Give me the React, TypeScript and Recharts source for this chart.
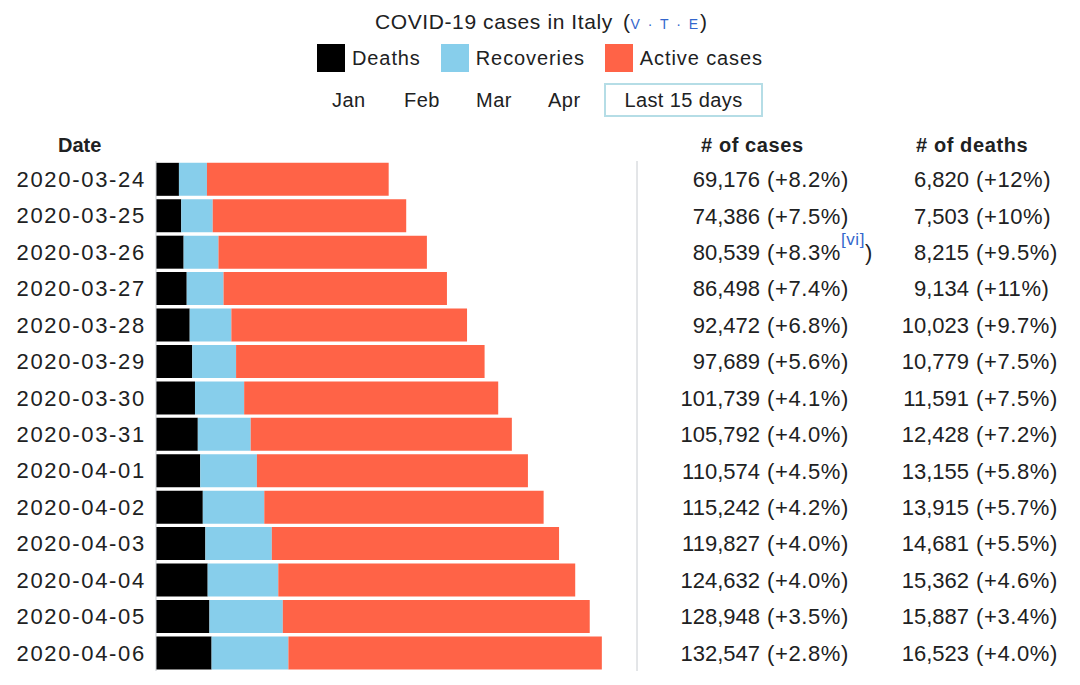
import React from 'react';
import { Bar, BarChart, XAxis, YAxis } from 'recharts';

const dates = [
  '2020-03-24', '2020-03-25', '2020-03-26', '2020-03-27', '2020-03-28',
  '2020-03-29', '2020-03-30', '2020-03-31', '2020-04-01', '2020-04-02',
  '2020-04-03', '2020-04-04', '2020-04-05', '2020-04-06',
];
const deaths = [6820, 7503, 8215, 9134, 10023, 10779, 11591, 12428, 13155, 13915, 14681, 15362, 15887, 16523];
const recoveries = [8326, 9362, 10361, 10950, 12384, 13030, 14620, 15729, 16847, 18278, 19758, 20996, 21815, 22837];
const cases = [69176, 74386, 80539, 86498, 92472, 97689, 101739, 105792, 110574, 115242, 119827, 124632, 128948, 132547];
const casesPct = ['+8.2%', '+7.5%', '+8.3%', '+7.4%', '+6.8%', '+5.6%', '+4.1%', '+4.0%', '+4.5%', '+4.2%', '+4.0%', '+4.0%', '+3.5%', '+2.8%'];
const deathsPct = ['+12%', '+10%', '+9.5%', '+11%', '+9.7%', '+7.5%', '+7.5%', '+7.2%', '+5.8%', '+5.7%', '+5.5%', '+4.6%', '+3.4%', '+4.0%'];
const notes = ['', '', 'vi', '', '', '', '', '', '', '', '', '', '', ''];
const months = ['Jan', 'Feb', 'Mar', 'Apr'];

const rows = dates.map((date, i) => ({
  date,
  deaths: deaths[i],
  recoveries: recoveries[i],
  active: cases[i] - deaths[i] - recoveries[i],
}));

const FONT = '"Liberation Sans", Arial, sans-serif';
const TEXT = '#202122';
const fmt = (n: number) => n.toLocaleString('en-US');

function RightTick(props: any) {
  const { y, payload } = props;
  const i = payload.index;
  const common = { fontSize: 22, fill: TEXT, fontFamily: FONT, dy: '0.36em' };
  return (
    <g>
      <text x={760} y={y} textAnchor="end" {...common}>{fmt(cases[i])}</text>
      <text x={767} y={y} textAnchor="start" letterSpacing={0.6} {...common}>
        ({casesPct[i]}
        {notes[i] ? (
          <tspan fill="#3366cc" fontSize={17} dy="-0.9em">[{notes[i]}]</tspan>
        ) : null}
        {notes[i] ? <tspan dy="0.7em">)</tspan> : ')'}
      </text>
      <text x={969} y={y} textAnchor="end" {...common}>{fmt(deaths[i])}</text>
      <text x={976} y={y} textAnchor="start" letterSpacing={0.6} {...common}>({deathsPct[i]})</text>
    </g>
  );
}

const legendItems = [
  { label: 'Deaths', color: '#000000' },
  { label: 'Recoveries', color: '#87ceeb' },
  { label: 'Active cases', color: '#ff6347' },
];

export default function App() {
  return (
    <div style={{ position: 'absolute', left: 0, top: 0, width: 1080, height: 685, background: '#fff', fontFamily: FONT, color: TEXT }}>
      <div style={{ position: 'absolute', top: 10, left: 375, fontSize: 21, letterSpacing: 0.6, whiteSpace: 'nowrap' }}>
        COVID-19 cases in Italy
        <span style={{ marginLeft: 10 }}>
          (<span style={{ color: '#3366cc', fontSize: 14, letterSpacing: 2 }}>V · T · E</span>)
        </span>
      </div>
      <div style={{ position: 'absolute', top: 44, left: 317, display: 'flex', gap: 20, fontSize: 20, whiteSpace: 'nowrap' }}>
        {legendItems.map((it) => (
          <div key={it.label} style={{ display: 'flex', alignItems: 'center', gap: 7 }}>
            <span style={{ width: 28, height: 28, background: it.color, display: 'inline-block' }} />
            <span style={{ letterSpacing: 0.9 }}>{it.label}</span>
          </div>
        ))}
      </div>
      <div style={{ position: 'absolute', top: 83, left: 332, display: 'flex', alignItems: 'center', fontSize: 20 }}>
        {months.map((m) => (
          <span key={m} style={{ width: 72, letterSpacing: 0.5 }}>{m}</span>
        ))}
        <span style={{ marginLeft: -16, width: 155, height: 30, border: '2px solid #b5dde6', textAlign: 'center', lineHeight: '30px', letterSpacing: 0.4 }}>
          Last 15 days
        </span>
      </div>
      <div style={{ position: 'absolute', top: 134, left: 58, fontSize: 20, fontWeight: 'bold' }}>Date</div>
      <div style={{ position: 'absolute', top: 134, left: 701, fontSize: 20, fontWeight: 'bold', letterSpacing: 0.6 }}># of cases</div>
      <div style={{ position: 'absolute', top: 134, left: 916, fontSize: 20, fontWeight: 'bold', letterSpacing: 0.6 }}># of deaths</div>
      <div style={{ position: 'absolute', left: 0, top: 0 }}>
        <BarChart
          layout="vertical"
          width={1080}
          height={685}
          data={rows}
          margin={{ top: 161, right: 0, bottom: 14, left: 0 }}
          barCategoryGap="5%"
        >
          <XAxis type="number" hide domain={[0, 143000]} />
          <YAxis
            yAxisId="left"
            type="category"
            dataKey="date"
            width={156}
            tickSize={0}
            tickMargin={10}
            axisLine={{ stroke: '#c8ccd1' }}
            tickLine={false}
            tick={{ fontSize: 22, fill: TEXT, fontFamily: FONT, letterSpacing: 1.7 }}
          />
          <YAxis
            yAxisId="right"
            orientation="right"
            type="category"
            dataKey="date"
            width={443}
            axisLine={{ stroke: '#c8ccd1' }}
            tickLine={false}
            tick={<RightTick />}
          />
          <Bar yAxisId="left" dataKey="deaths" stackId="a" fill="#000000" isAnimationActive={false} />
          <Bar yAxisId="left" dataKey="recoveries" stackId="a" fill="#87ceeb" isAnimationActive={false} />
          <Bar yAxisId="left" dataKey="active" stackId="a" fill="#ff6347" isAnimationActive={false} />
        </BarChart>
      </div>
    </div>
  );
}
